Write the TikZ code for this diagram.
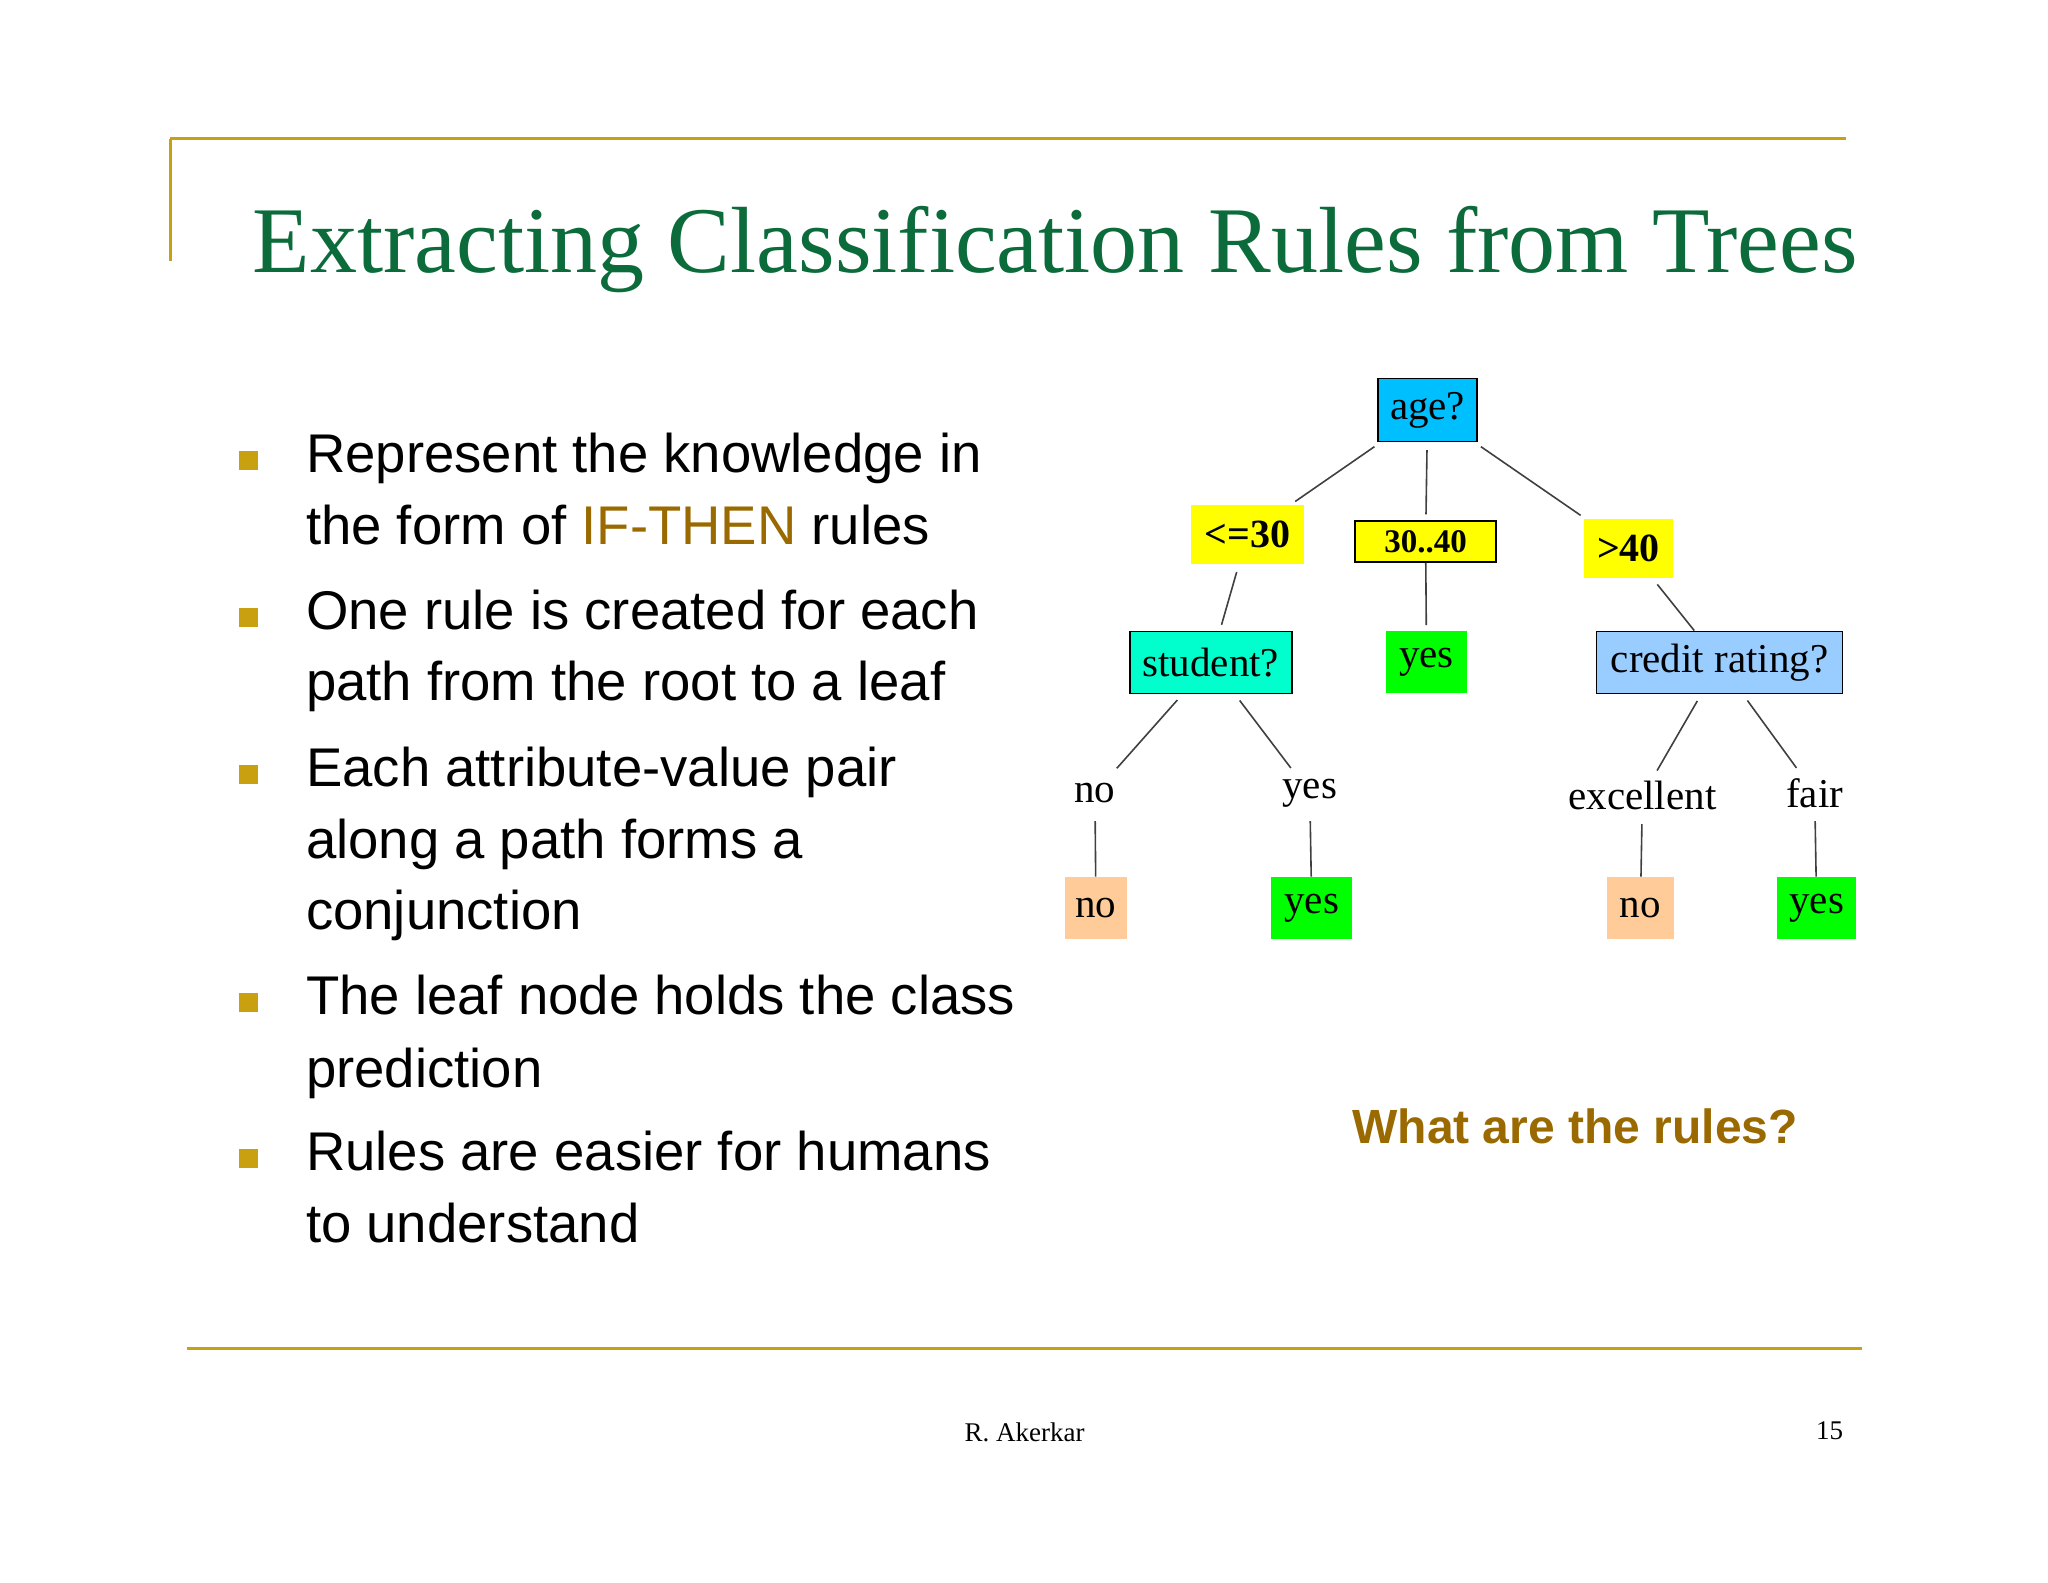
\documentclass[tikz,border=0pt]{standalone}
\usepackage{fontspec}
\setmainfont{Liberation Serif}
\setsansfont{Liberation Sans}
\definecolor{gold}{HTML}{C9A010}
\definecolor{ttl}{HTML}{0B6B3A}
\definecolor{brn}{HTML}{9A6A00}
\definecolor{agec}{HTML}{00BFFF}
\definecolor{yel}{HTML}{FFFF00}
\definecolor{stu}{HTML}{00FFCC}
\definecolor{grn}{HTML}{00FF00}
\definecolor{cred}{HTML}{99CCFF}
\definecolor{pch}{HTML}{FFCC99}
\begin{document}
\begin{tikzpicture}[x=0.99pt,y=-0.99pt,
  tbox/.style={inner sep=0pt,font=\fontsize{41}{44}\selectfont},
  bul/.style={fill=gold,minimum size=19pt,inner sep=0pt},
  btxt/.style={anchor=base west,font=\sffamily\fontsize{54.5}{60}\selectfont,inner sep=0pt},
  edge/.style={draw=black!75,line width=1.6pt,shorten <=8pt,shorten >=6pt}]
\useasboundingbox (0,0) rectangle (2068.7,1598);
\fill[white] (0,0) rectangle (2068.7,1598);
% frame lines
\draw[gold,line width=3pt] (172,140) -- (1865,140);
\draw[gold,line width=3pt] (172,140) -- (172,264);
\draw[gold,line width=3pt] (189,1362) -- (1881,1362);
% title
\node[anchor=base west,inner sep=0pt,text=ttl] (title) at (255,275)
  {\resizebox{1605pt}{!}{\fontsize{90}{100}\selectfont Extracting Classification Rules from Trees}};
% bullets
\foreach \y/\n in {459/b1,618/b2,776/b3,1007/b4,1164/b5}{\node[bul] (\n) at (251,\y+6) {};}
\node[btxt] (t1) at (309,477) {Represent the knowledge in};
\node[btxt] (t1b) at (309,550) {the form of \textcolor{brn}{IF-THEN} rules};
\node[btxt] (t2) at (309,636) {One rule is created for each};
\node[btxt] (t2b) at (309,708) {path from the root to a leaf};
\node[btxt] (t3) at (309,794) {Each attribute-value pair};
\node[btxt] (t3b) at (309,867) {along a path forms a};
\node[btxt] (t3c) at (309,939) {conjunction};
\node[btxt] (t4) at (309,1025) {The leaf node holds the class};
\node[btxt] (t4b) at (309,1098) {prediction};
\node[btxt] (t5) at (309,1182) {Rules are easier for humans};
\node[btxt] (t5b) at (309,1255) {to understand};
% question
\node[font=\sffamily\bfseries\fontsize{48}{56}\selectfont,text=brn,inner sep=0pt] (q) at (1591,1138) {What are the rules?};
% footer
\node[font=\fontsize{27}{30}\selectfont,inner sep=0pt] (auth) at (1035,1447) {R. Akerkar};
\node[font=\fontsize{27}{30}\selectfont,inner sep=0pt] (pg) at (1848,1445) {15};
% tree
\node[tbox,fill=agec,draw=black,line width=1.5pt,minimum width=99pt,minimum height=63pt] (age) at (1442,414) {age?};
\node[tbox,fill=yel,minimum width=113pt,minimum height=59pt,font=\bfseries\fontsize{40}{44}\selectfont] (le) at (1260,540) {<=30};
\node[tbox,fill=yel,draw=black,line width=1.5pt,minimum width=141pt,minimum height=41pt,font=\bfseries\fontsize{33}{36}\selectfont] (mid) at (1440,547) {30..40};
\node[tbox,fill=yel,minimum width=89pt,minimum height=59pt,font=\bfseries\fontsize{40}{44}\selectfont] (gt) at (1645,554) {>40};
\node[tbox,fill=stu,draw=black,line width=1.5pt,minimum width=162pt,minimum height=62pt] (stud) at (1223,669) {student?};
\node[tbox,fill=grn,minimum width=81pt,minimum height=62pt] (y1) at (1441,669) {yes};
\node[tbox,fill=cred,draw=black,line width=1.5pt,minimum width=246pt,minimum height=62pt] (cr) at (1737,669) {credit rating?};
\node[tbox,minimum height=40pt] (lno) at (1106,801) {no};
\node[tbox,minimum height=40pt] (lyes) at (1323,801) {yes};
\node[tbox,minimum height=40pt] (lexc) at (1659,804) {excellent};
\node[tbox,minimum height=40pt] (lfair) at (1833,801) {fair};
\node[tbox,fill=pch,minimum width=62pt,minimum height=62pt] (n1) at (1107,917) {no};
\node[tbox,fill=grn,minimum width=81pt,minimum height=62pt] (y2) at (1325,917) {yes};
\node[tbox,fill=pch,minimum width=67pt,minimum height=62pt] (n2) at (1657,917) {no};
\node[tbox,fill=grn,minimum width=79pt,minimum height=62pt] (y3) at (1835,917) {yes};
\draw[edge] (age) -- (le);
\draw[edge] (age) -- (mid);
\draw[edge] (age) -- (gt);
\draw[edge] (le) -- (stud);
\draw[edge,shorten <=0pt] (mid) -- (y1);
\draw[edge,shorten >=0pt] (gt) -- (cr);
\draw[edge] (stud) -- (lno);
\draw[edge] (stud) -- (lyes);
\draw[edge] (cr) -- (lexc);
\draw[edge] (cr) -- (lfair);
\draw[edge,shorten >=0pt] (lno) -- (n1);
\draw[edge,shorten >=0pt] (lyes) -- (y2);
\draw[edge,shorten >=0pt] (lexc) -- (n2);
\draw[edge,shorten >=0pt] (lfair) -- (y3);
\end{tikzpicture}
\end{document}
